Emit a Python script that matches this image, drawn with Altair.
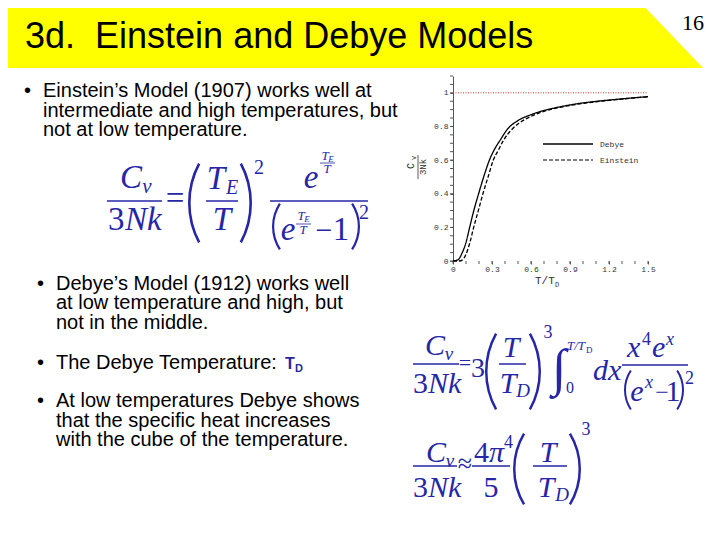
import math
import altair as alt
import pandas as pd

# ---------------- data ----------------
T_DEBYE = [0, 0.04, 0.069, 0.1, 0.128, 0.16, 0.197, 0.24, 0.28, 0.32, 0.364, 0.42, 0.5,
           0.6, 0.7, 0.8, 0.9, 1.0, 1.1, 1.2, 1.3, 1.4, 1.5]
CV_DEBYE = [0, 0.008, 0.046, 0.11, 0.2, 0.3, 0.4, 0.51, 0.6, 0.665, 0.72, 0.785, 0.835,
            0.87, 0.895, 0.913, 0.928, 0.94, 0.949, 0.957, 0.964, 0.971, 0.977]
T_EINSTEIN = [0, 0.05, 0.07, 0.1, 0.13, 0.159, 0.195, 0.23, 0.27, 0.31, 0.35, 0.39, 0.45,
              0.5, 0.6, 0.7, 0.8, 0.9, 1.0, 1.1, 1.2, 1.3, 1.4, 1.5]
CV_EINSTEIN = [0, 0, 0.005, 0.04, 0.11, 0.2, 0.3, 0.4, 0.5, 0.6, 0.66, 0.72, 0.78,
               0.815, 0.86, 0.89, 0.91, 0.925, 0.937, 0.947, 0.955, 0.963, 0.97, 0.976]
SERIES = ["Debye", "Einstein"]
LIMIT = 1.0
X_TICKS = [0, 0.1, 0.2, 0.3, 0.4, 0.5, 0.6, 0.7, 0.8, 0.9, 1.0, 1.1, 1.2, 1.3, 1.4, 1.5]
X_LABELS = [0, 0.3, 0.6, 0.9, 1.2, 1.5]
Y_TICKS = [0, 0.05, 0.1, 0.15, 0.2, 0.25, 0.3, 0.35, 0.4, 0.45, 0.5, 0.55, 0.6, 0.65,
           0.7, 0.75, 0.8, 0.85, 0.9, 0.95, 1.0, 1.05, 1.1]
Y_LABELS = [0, 0.2, 0.4, 0.6, 0.8, 1]

TITLE = "3d.\u00a0 Einstein and Debye Models"
PAGE = "16"
BULLET1 = ["Einstein\u2019s Model (1907) works well at",
           "intermediate and high temperatures, but",
           "not at low temperature."]
BULLET2 = ["Debye\u2019s Model (1912) works well",
           "at low temperature and high, but",
           "not in the middle."]
BULLET3 = "The Debye Temperature:"
BULLET4 = ["At low temperatures Debye shows",
           "that the specific heat increases",
           "with the cube of the temperature."]

# ---------------- layout helpers ----------------
OX, OY = 453, 76          # page position of the plot origin (top-left)
W, H = 195, 185
SANS, SERIF, MONO = "Liberation Sans", "Liberation Serif", "Liberation Mono"
BLUE = "#2626a6"
GRAY = "#333333"

texts = []


def T(text, x, y, size, font=SERIF, style="italic", weight="normal", color=BLUE,
      align="center", baseline="alphabetic", angle=0):
    texts.append(dict(text=text, x=x - OX, y=y - OY, size=size, font=font, style=style,
                      weight=weight, color=color, align=align, baseline=baseline, angle=angle))


bars = []


def BAR(x1, x2, y, w=1.5, color=BLUE):
    bars.append(dict(x=x1 - OX, x2=x2 - OX, y=y - OY, w=w, color=color))


parens = []


def PAREN(side, xo, top, bottom, sag, thick):
    h = (bottom - top) / 2.0
    r = (h * h + sag * sag) / (2.0 * sag)
    a = math.asin(h / r)
    cy = (top + bottom) / 2.0
    if side == "(":
        cx, mid = xo + r, 1.5 * math.pi
    else:
        cx, mid = xo - r, 0.5 * math.pi
    parens.append(dict(x=cx - OX, y=cy - OY, t1=mid - a, t2=mid + a, r=r, r2=r - thick))


# title, page number
T(TITLE, 25, 48, 36, SANS, "normal", color="black", align="left")
T(PAGE, 682, 30, 22, SERIF, "normal", color="black", align="left")

# bullets
for i, line in enumerate(BULLET1):
    T(line, 43, 97 + 19.5 * i, 20, SANS, "normal", color="black", align="left")
T("\u2022", 24, 97, 20, SANS, "normal", color="black", align="left")
for i, line in enumerate(BULLET2):
    T(line, 56, 289.5 + 19.5 * i, 20, SANS, "normal", color="black", align="left")
T("\u2022", 37, 289.5, 20, SANS, "normal", color="black", align="left")
T(BULLET3, 56, 369, 20, SANS, "normal", color="black", align="left")
T("\u2022", 37, 369, 20, SANS, "normal", color="black", align="left")
T("T", 285, 369, 16, SANS, "normal", "bold", BLUE, "left")
T("D", 295, 372, 11, SANS, "normal", "bold", BLUE, "left")
for i, line in enumerate(BULLET4):
    T(line, 56, 407 + 19.5 * i, 20, SANS, "normal", color="black", align="left")
T("\u2022", 37, 407, 20, SANS, "normal", color="black", align="left")

# ---- Einstein equation ----
T("C", 131, 188, 33); T("v", 147, 193, 21)
BAR(107, 162, 201)
T("3", 108, 230, 33, style="normal", align="left"); T("Nk", 125, 230, 33, align="left")
T("=", 175, 209, 33, style="normal")
PAREN("(", 188, 163, 243, 10, 2.6)
T("T", 216, 189, 33); T("E", 232, 194, 20)
BAR(206, 238, 201)
T("T", 222, 230, 33)
PAREN(")", 252, 163, 243, 10, 2.6)
T("2", 259, 174, 20, style="normal")
T("e", 311, 188, 33)
T("T", 325, 160, 13); T("E", 331, 162, 9)
BAR(320, 335, 163, 0.8)
T("T", 327, 173, 13)
BAR(270, 368, 201)
PAREN("(", 272, 203, 250, 7, 2.2)
T("e", 288, 240, 33)
T("T", 301, 220, 13); T("E", 307, 222, 9)
BAR(296, 311, 224, 0.8)
T("T", 303, 234, 13)
T("\u2212", 324, 240, 30, style="normal"); T("1", 341, 240, 33, style="normal")
PAREN(")", 360, 203, 250, 7, 2.2)
T("2", 364, 219, 20, style="normal")

# ---- Debye equation ----
T("C", 435, 355, 30); T("v", 449, 360, 19)
BAR(413, 459, 364)
T("3", 413, 393, 30, style="normal", align="left"); T("Nk", 428, 393, 30, align="left")
T("=", 465, 370, 22, style="normal")
T("3", 478, 377, 28, style="normal")
PAREN("(", 485, 333, 410, 10, 2.5)
T("T", 511, 357, 30)
BAR(499, 526, 364)
T("T", 508, 393, 30); T("D", 523, 397, 19)
PAREN(")", 541, 333, 410, 10, 2.5)
T("3", 548, 338, 18, style="normal")
T("\u222b", 559, 385, 52, style="normal")
T("T/T", 567, 350, 13, align="left"); T("D", 586, 353, 9, style="normal", align="left")
T("0", 566, 393, 16, style="normal", align="left")
T("dx", 593, 380, 30, align="left")
T("x", 627, 357, 30, align="left"); T("4", 642, 345, 18, style="normal", align="left")
T("e", 652, 357, 30, align="left"); T("x", 666, 345, 18, align="left")
BAR(622, 688, 365)
PAREN("(", 624, 370, 410, 6, 2.0)
T("e", 637, 401, 30); T("x", 645, 388, 18, align="left")
T("\u2212", 662, 400, 24, style="normal"); T("1", 673, 401, 30, style="normal")
PAREN(")", 684, 370, 410, 6, 2.0)
T("2", 685, 384, 18, style="normal", align="left")

# ---- low temperature limit ----
T("C", 436, 462, 30); T("v", 450, 467, 19)
BAR(413, 457, 466)
T("3", 413, 497, 30, style="normal", align="left"); T("Nk", 428, 497, 30, align="left")
T("\u2248", 465, 472, 26, style="normal")
T("4", 474, 462, 30, style="normal", align="left"); T("\u03c0", 489, 462, 30, align="left")
T("4", 504, 448, 18, style="normal", align="left")
BAR(472, 510, 466)
T("5", 491, 497, 30, style="normal")
PAREN("(", 513, 433, 505, 10, 2.5)
T("T", 548, 462, 30)
BAR(533, 567, 466)
T("T", 546, 497, 30); T("D", 562, 501, 19)
PAREN(")", 581, 433, 505, 10, 2.5)
T("3", 586, 435, 18, style="normal")

# ---- plot decorations (axis titles, legend labels) ----
T("C", 411, 166, 10, MONO, "normal", color=GRAY, baseline="middle", angle=270)
T("v", 414, 158, 7, MONO, "normal", color=GRAY, baseline="middle", angle=270)
T("3Nk", 423, 167, 9, MONO, "normal", color=GRAY, baseline="middle", angle=270)
T("T/T", 535, 284, 11, MONO, "normal", color=GRAY, align="left")
T("D", 555, 287, 7, MONO, "normal", color=GRAY, align="left")
LEG_Y = [144, 160]
for lab, ly in zip(SERIES, LEG_Y):
    T(lab, 600, ly + 3, 8, MONO, "normal", color=GRAY, align="left")

# ---------------- layers ----------------
px = lambda f: alt.X(f, scale=None, axis=None)
py = lambda f: alt.Y(f, scale=None, axis=None)

XSCALE = alt.Scale(domain=[0, 1.5], nice=False, zero=False)
YSCALE = alt.Scale(domain=[0, 1.1], nice=False)
XAXIS = alt.Axis(values=X_LABELS, format="~g", domain=False,
                 tickSize=3, tickColor="#555", grid=False, title=None,
                 labelFont=MONO, labelFontSize=8, labelColor=GRAY, labelPadding=1,
                 labelFlush=False, labelOverlap=False)
YAXIS = alt.Axis(values=Y_LABELS, format="~g", domainColor="#555",
                 tickSize=3, tickColor="#555", grid=False, title=None,
                 labelFont=MONO, labelFontSize=8, labelColor=GRAY, labelPadding=2,
                 labelFlush=False, labelOverlap=False)

banner_df = pd.DataFrame({"x": [0 - OX, 638 - OX, 703 - OX],
                          "y": [0 - OY, 0 - OY, 68 - OY],
                          "y2": [68 - OY, 68 - OY, 68 - OY]})
banner = alt.Chart(banner_df).mark_area(color="#ffff00").encode(
    x=px("x:Q"), y=py("y:Q"), y2="y2:Q")

curve_df = pd.concat([
    pd.DataFrame({"T": T_DEBYE, "Cv": CV_DEBYE, "series": SERIES[0]}),
    pd.DataFrame({"T": T_EINSTEIN, "Cv": CV_EINSTEIN, "series": SERIES[1]}),
])

curves = alt.Chart(curve_df).mark_line(color="black", strokeWidth=1.3, interpolate="monotone").encode(
    x=alt.X("T:Q", scale=XSCALE, axis=XAXIS),
    y=alt.Y("Cv:Q", scale=YSCALE, axis=YAXIS),
    strokeDash=alt.StrokeDash("series:N", scale=alt.Scale(domain=SERIES, range=[[1, 0], [4, 2]]),
                              legend=None),
    detail="series:N",
)

xticks = alt.Chart(pd.DataFrame({"T": X_TICKS})).mark_rule(color="#555", strokeWidth=1).encode(
    x=alt.X("T:Q", scale=XSCALE, axis=XAXIS), y=alt.value(H), y2=alt.value(H + 3))
yticks = alt.Chart(pd.DataFrame({"Cv": Y_TICKS})).mark_rule(color="#555", strokeWidth=1).encode(
    y=alt.Y("Cv:Q", scale=YSCALE, axis=YAXIS), x=alt.value(-3), x2=alt.value(0))

limit = alt.Chart(pd.DataFrame({"Cv": [LIMIT], "T": [0], "T2": [1.5]})).mark_rule(
    color="#cc3333", strokeDash=[1, 1.5], strokeWidth=1).encode(
    x=alt.X("T:Q", scale=XSCALE, axis=XAXIS), x2="T2:Q", y=alt.Y("Cv:Q", scale=YSCALE, axis=YAXIS))

leg_solid = alt.Chart(pd.DataFrame({"x": [543 - OX], "x2": [593 - OX], "y": [LEG_Y[0] - OY]})).mark_rule(
    color="black", strokeWidth=1.3).encode(x=px("x:Q"), x2="x2:Q", y=py("y:Q"))
leg_dash = alt.Chart(pd.DataFrame({"x": [543 - OX], "x2": [593 - OX], "y": [LEG_Y[1] - OY]})).mark_rule(
    color="black", strokeWidth=1.1, strokeDash=[4, 2]).encode(x=px("x:Q"), x2="x2:Q", y=py("y:Q"))

bar_layer = alt.Chart(pd.DataFrame(bars)).mark_rule().encode(
    x=px("x:Q"), x2="x2:Q", y=py("y:Q"),
    strokeWidth=alt.StrokeWidth("w:Q", scale=None, legend=None),
    color=alt.Color("color:N", scale=None, legend=None))
vbar = alt.Chart(pd.DataFrame({"x": [418 - OX], "y": [155 - OY], "y2": [179 - OY]})).mark_rule(
    color=GRAY, strokeWidth=0.8).encode(x=px("x:Q"), y=py("y:Q"), y2="y2:Q")

paren_layer = alt.Chart(pd.DataFrame(parens)).mark_arc(color=BLUE).encode(
    x=px("x:Q"), y=py("y:Q"),
    theta=alt.Theta("t1:Q", scale=None), theta2="t2:Q",
    radius=alt.Radius("r:Q", scale=None), radius2="r2:Q")

tdf = pd.DataFrame(texts)
text_layers = []
for (font, style, weight, align, baseline), g in tdf.groupby(["font", "style", "weight", "align", "baseline"]):
    text_layers.append(
        alt.Chart(g.reset_index(drop=True)).mark_text(
            font=font, fontStyle=style, fontWeight=weight, align=align, baseline=baseline).encode(
            x=px("x:Q"), y=py("y:Q"), text="text:N",
            size=alt.Size("size:Q", scale=None, legend=None),
            color=alt.Color("color:N", scale=None, legend=None),
            angle=alt.Angle("angle:Q", scale=None)))

chart = alt.layer(banner, limit, curves, xticks, yticks, leg_solid, leg_dash, vbar,
                  bar_layer, paren_layer, *text_layers).properties(
    width=W, height=H,
    padding={"left": 445, "top": 68, "right": 64, "bottom": 271},
    autosize=alt.AutoSizeParams(type="none"),
    background="white",
).configure_view(stroke=None)

chart.save("out.html", embed_options={"renderer": "svg", "actions": False})
